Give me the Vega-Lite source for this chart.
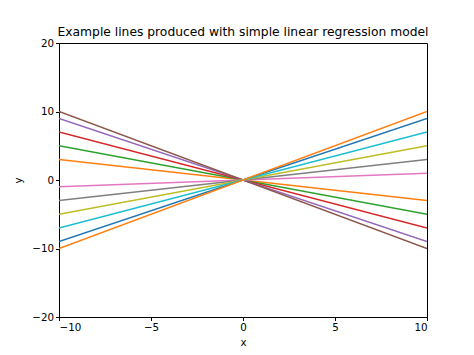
{
  "$schema": "https://vega.github.io/schema/vega-lite/v6.json",
  "width": 368,
  "height": 274,
  "autosize": {"type": "none"},
  "padding": {"left": 59, "top": 43, "right": 47, "bottom": 38},
  "background": "white",
  "title": {"text": "Example lines produced with simple linear regression model", "font": "DejaVu Sans", "fontSize": 12.3, "fontWeight": "normal", "color": "black", "offset": 0},
  "config": {
    "view": {"stroke": "black", "strokeWidth": 1},
    "axis": {"labelFont": "DejaVu Sans", "labelFontSize": 10.3, "labelColor": "black", "titleFont": "DejaVu Sans", "titleFontSize": 10.3, "titleFontWeight": "normal", "titleColor": "black", "tickColor": "black", "tickSize": 3.5, "domainColor": "black", "grid": false}
  },
  "data": {"values": [
    {"line": "L01", "x": -10, "y": -9}, {"line": "L01", "x": 10, "y": 9},
    {"line": "L02", "x": -10, "y": 3}, {"line": "L02", "x": 10, "y": -3},
    {"line": "L03", "x": -10, "y": 5}, {"line": "L03", "x": 10, "y": -5},
    {"line": "L04", "x": -10, "y": 7}, {"line": "L04", "x": 10, "y": -7},
    {"line": "L05", "x": -10, "y": 9}, {"line": "L05", "x": 10, "y": -9},
    {"line": "L06", "x": -10, "y": 10}, {"line": "L06", "x": 10, "y": -10},
    {"line": "L07", "x": -10, "y": -1}, {"line": "L07", "x": 10, "y": 1},
    {"line": "L08", "x": -10, "y": -3}, {"line": "L08", "x": 10, "y": 3},
    {"line": "L09", "x": -10, "y": -5}, {"line": "L09", "x": 10, "y": 5},
    {"line": "L10", "x": -10, "y": -7}, {"line": "L10", "x": 10, "y": 7},
    {"line": "L11", "x": -10, "y": -10}, {"line": "L11", "x": 10, "y": 10}
  ]},
  "mark": {"type": "line", "strokeWidth": 1.5, "clip": true},
  "encoding": {
    "x": {"field": "x", "type": "quantitative", "scale": {"domain": [-10, 10], "nice": false, "zero": false}, "axis": {"values": [-10, -5, 0, 5, 10], "title": "x", "titleY": 20}},
    "y": {"field": "y", "type": "quantitative", "scale": {"domain": [-20, 20], "nice": false}, "axis": {"values": [-20, -10, 0, 10, 20], "title": "y", "titlePadding": 8}},
    "color": {"field": "line", "type": "nominal", "legend": null, "scale": {
      "domain": ["L01","L02","L03","L04","L05","L06","L07","L08","L09","L10","L11"],
      "range": ["#1f77b4","#ff7f0e","#2ca02c","#d62728","#9467bd","#8c564b","#e377c2","#7f7f7f","#bcbd22","#17becf","#ff7f0e"]}},
    "order": {"field": "x", "type": "quantitative"}
  }
}
